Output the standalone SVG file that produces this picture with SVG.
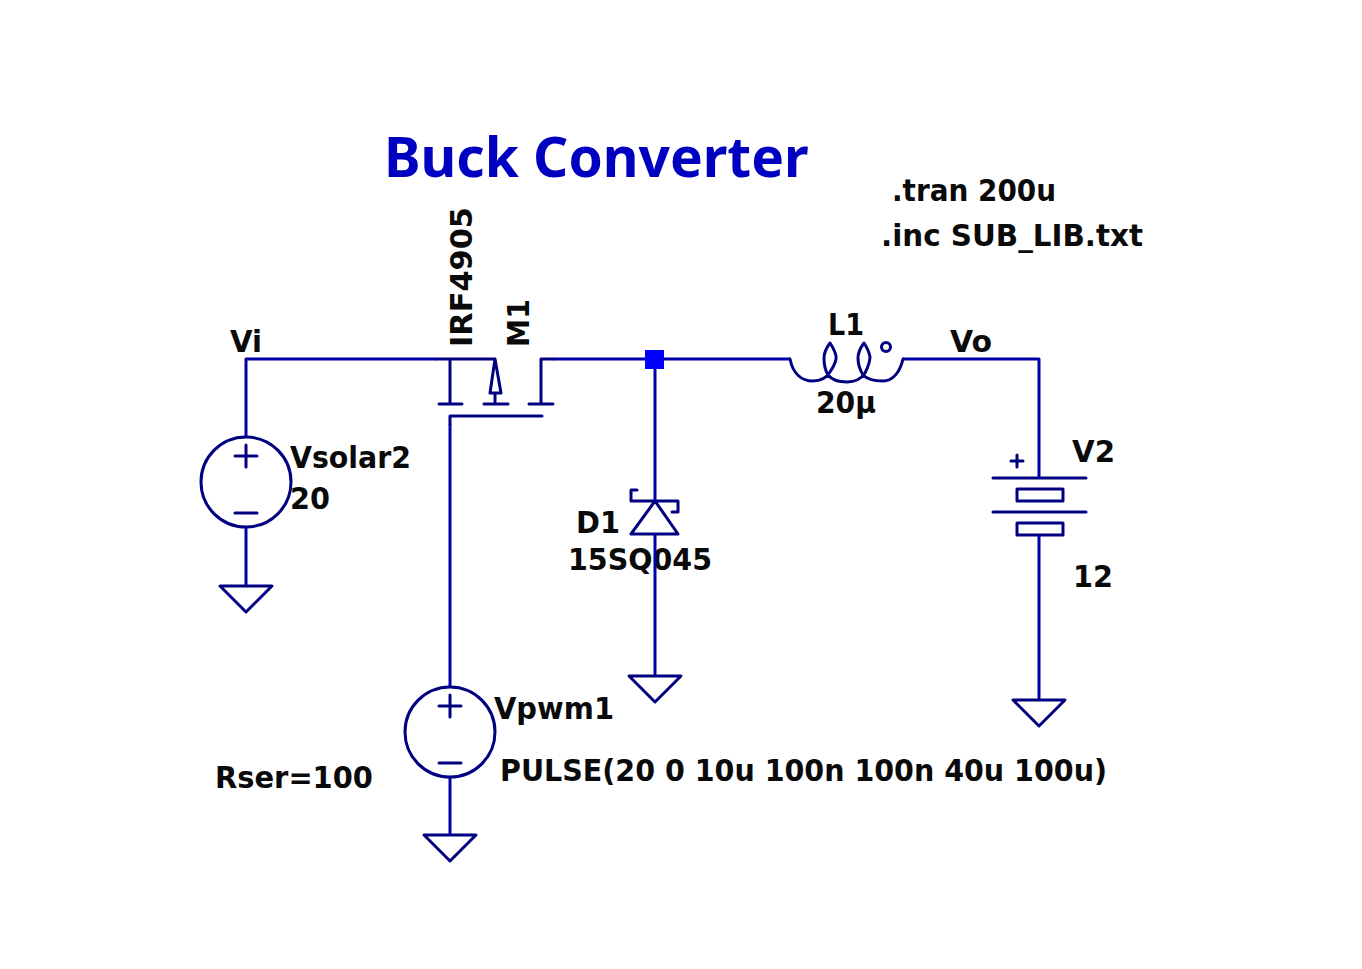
<svg xmlns="http://www.w3.org/2000/svg" width="1362" height="969" viewBox="0 0 1362 969">
<style>
.w{fill:none;stroke:#0000a8;stroke-width:3;stroke-linejoin:round}
.c{fill:none;stroke:#000080;stroke-width:3;stroke-linejoin:round;stroke-linecap:round}
text{font-family:"DejaVu Sans","Noto Sans",sans-serif;font-weight:700;font-size:30px;fill:#0a0a0a}
</style>
<defs>
<path id="gnd" class="c" d="M-26 0H26L0 26Z"/>
<g id="src"><circle class="c" r="45"/><path class="c" d="M-11 -26H11M0 -37V-15M-11 31H11"/></g>
</defs>
<rect width="1362" height="969" fill="#fff"/>
<g id="title"><text x="384" y="177" style="font-family:'Noto Sans',sans-serif;font-size:55px;fill:#0000c0">Buck Converter</text></g>
<g id="directives">
<text x="892" y="201" textLength="164" lengthAdjust="spacingAndGlyphs">.tran 200u</text>
<text x="881" y="246" textLength="262" lengthAdjust="spacingAndGlyphs">.inc SUB_LIB.txt</text>
<text x="215" y="788" textLength="158" lengthAdjust="spacingAndGlyphs">Rser=100</text>
</g>
<g id="Vsolar2">
<use href="#src" x="246" y="482"/><use href="#gnd" x="246" y="586"/>
<text x="230" y="352" textLength="32" lengthAdjust="spacingAndGlyphs">Vi</text>
<text x="290" y="468" textLength="121" lengthAdjust="spacingAndGlyphs">Vsolar2</text>
<text x="290" y="509" textLength="40" lengthAdjust="spacingAndGlyphs">20</text>
</g>
<g id="M1">
<path class="c" d="M437 359H495M450 359V404M439 404H462M484 404H508M529 404H553M495 404V393M495 359L490 393H501ZM541 404V359H553M450 424V416H542"/>
<text transform="translate(472 347) rotate(-90)" textLength="140" lengthAdjust="spacingAndGlyphs">IRF4905</text>
<text transform="translate(529 347) rotate(-90)" textLength="48" lengthAdjust="spacingAndGlyphs">M1</text>
</g>
<g id="D1">
<path class="c" d="M637 490H631V501H678V512H672M655 501L631 534H678Z"/>
<use href="#gnd" x="655" y="676"/>
<text x="576" y="533" textLength="44" lengthAdjust="spacingAndGlyphs">D1</text>
<text x="568" y="570" textLength="144" lengthAdjust="spacingAndGlyphs">15SQ045</text>
</g>
<g id="L1">
<path class="c" d="M790 359C793 374 802 381 813 381C821 381 827 377 830 372C834 366 837 361 836 356C835 351 832 346 830 343C827 347 824 352 824 358C824 364 825 370 828 375C832 380 840 382 847 382C855 382 861 379 865 373C868 367 870 362 870 357C869 351 866 346 864 343C861 347 858 352 858 358C858 364 860 370 863 375C868 380 875 381 883 381C893 381 900 372 903 359"/>
<circle class="c" cx="886" cy="347" r="4.500"/>
<text x="828" y="335" textLength="36" lengthAdjust="spacingAndGlyphs">L1</text>
<text x="816" y="413" textLength="60" lengthAdjust="spacingAndGlyphs">20µ</text>
<text x="950" y="352" textLength="42" lengthAdjust="spacingAndGlyphs">Vo</text>
</g>
<g id="V2">
<path class="c" d="M993 478H1086M993 512H1086M1011 461H1023M1017 455V467"/>
<rect class="c" x="1017" y="489" width="46" height="12"/>
<rect class="c" x="1017" y="523" width="46" height="12"/>
<use href="#gnd" x="1039" y="700"/>
<text x="1072" y="462" textLength="43" lengthAdjust="spacingAndGlyphs">V2</text>
<text x="1073" y="587" textLength="40" lengthAdjust="spacingAndGlyphs">12</text>
</g>
<g id="Vpwm1">
<use href="#src" x="450" y="732"/><use href="#gnd" x="450" y="835"/>
<text x="494" y="719" textLength="120" lengthAdjust="spacingAndGlyphs">Vpwm1</text>
<text x="500" y="781" textLength="607" lengthAdjust="spacingAndGlyphs">PULSE(20 0 10u 100n 100n 40u 100u)</text>
</g>
<g id="connectors">
<path class="w" d="M437 359H246V437M246 527V586"/>
<path class="w" d="M450 424V687M450 777V835"/>
<path class="w" d="M553 359H790M655 359V500M655 534V676"/>
<path class="w" d="M903 359H1039V478M1039 535V700"/>
</g>
<g id="junction"><rect x="645" y="350" width="19" height="19" fill="#0000ff"/></g>
</svg>
